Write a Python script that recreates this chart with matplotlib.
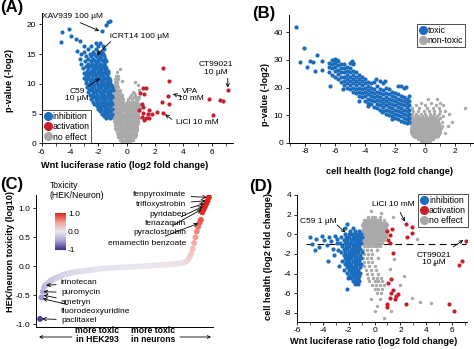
import numpy as np
import matplotlib
matplotlib.use("Agg")
import matplotlib.pyplot as plt
from matplotlib.colors import LinearSegmentedColormap
from matplotlib.lines import Line2D
from matplotlib.patches import FancyArrowPatch

plt.rcParams['font.family'] = ['Liberation Sans', 'DejaVu Sans']
plt.rcParams['axes.unicode_minus'] = False

BLUE = '#1b6cbc'
RED = '#c81e2b'
GREY = '#a9a9a9'

# ---------------- (A) Wnt reporter screen ----------------
# rows of (p-value, [log2 ratios])
wnt_inh_rows = [
    (4.2, [-1.45, -1.2]),
    (4.6, [-1.6, -1.35, -1.1]),
    (5.0, [-1.75, -1.5, -1.3, -1.05]),
    (5.4, [-1.9, -1.6, -1.4, -1.15]),
    (5.8, [-2.05, -1.8, -1.55, -1.3, -1.05]),
    (6.2, [-2.1, -1.9, -1.65, -1.45, -1.2]),
    (6.6, [-2.3, -2.0, -1.75, -1.5, -1.3, -1.05]),
    (7.0, [-2.35, -2.1, -1.85, -1.6, -1.35, -1.1]),
    (7.4, [-2.5, -2.2, -1.95, -1.7, -1.45, -1.2]),
    (7.8, [-2.45, -2.25, -2.0, -1.75, -1.5, -1.25, -1.05]),
    (8.2, [-2.6, -2.35, -2.1, -1.85, -1.6, -1.35, -1.1]),
    (8.6, [-2.7, -2.4, -2.15, -1.9, -1.65, -1.4, -1.15]),
    (9.0, [-2.65, -2.45, -2.2, -1.95, -1.7, -1.45, -1.2, -1.0]),
    (9.4, [-2.8, -2.5, -2.3, -2.05, -1.8, -1.55, -1.3, -1.05]),
    (9.8, [-2.75, -2.55, -2.3, -2.05, -1.8, -1.6, -1.35, -1.1]),
    (10.2, [-2.9, -2.6, -2.35, -2.1, -1.85, -1.6, -1.4, -1.15]),
    (10.6, [-2.85, -2.6, -2.4, -2.15, -1.9, -1.65, -1.4, -1.2]),
    (11.0, [-3.0, -2.7, -2.45, -2.2, -1.95, -1.7, -1.45, -1.25]),
    (11.4, [-2.9, -2.65, -2.4, -2.15, -1.9, -1.65, -1.4]),
    (11.8, [-3.05, -2.75, -2.5, -2.25, -2.0, -1.75, -1.5, -1.3]),
    (12.2, [-2.8, -2.55, -2.3, -2.05, -1.8, -1.55, -1.35]),
    (12.6, [-3.1, -2.7, -2.4, -2.15, -1.9, -1.65, -1.45]),
    (13.0, [-2.9, -2.6, -2.3, -2.0, -1.75, -1.5]),
    (13.4, [-3.2, -2.75, -2.45, -2.15, -1.9, -1.6]),
    (13.8, [-2.95, -2.55, -2.25, -2.0, -1.7, -1.45]),
    (14.2, [-3.3, -2.7, -2.35, -2.05, -1.8, -1.55]),
    (14.6, [-2.9, -2.5, -2.2, -1.9, -1.6]),
    (15.0, [-3.2, -2.6, -2.3, -1.95, -1.7]),
    (15.4, [-3.0, -2.4, -2.05, -1.75]),
    (15.8, [-2.7, -2.2, -1.6]),
    (16.3, [-2.5, -2.0, -1.7]),
    (16.8, [-2.2, -1.9]),
]
wnt_inh_extra = [(-4.6, 18.7), (-4.1, 19.2), (-3.95, 18.1), (-4.65, 17.0),
                 (-3.6, 17.6), (-3.3, 17.2), (-1.3, 20.4), (-1.15, 20.6),
                 (-1.75, 18.9), (-1.45, 19.8), (-3.0, 16.3), (-3.5, 15.5)]
wnt_act = [(2.54, 12.66), (2.99, 10.48), (1.13, 9.24), (1.36, 9.24), (0.94, 8.4),
           (1.25, 8.24), (2.94, 8.01), (2.49, 6.89), (3.01, 6.61), (1.15, 6.05),
           (0.87, 5.6), (2.12, 5.32), (2.54, 5.04), (1.18, 5.04), (1.48, 4.87),
           (1.76, 4.87), (1.11, 4.37), (1.36, 4.31), (1.25, 3.92), (1.58, 4.2),
           (5.81, 7.45), (6.59, 7.28), (6.78, 7.17), (6.12, 4.71), (7.13, 8.96),
           (1.05, 6.6), (1.6, 5.6)]
wnt_none_rows = [
    (0.2, [-0.3, -0.1, 0.05, 0.2]),
    (0.6, [-0.5, -0.3, -0.15, 0.0, 0.15, 0.3, 0.45]),
    (1.0, [-0.6, -0.45, -0.3, -0.15, 0.0, 0.12, 0.25, 0.4, 0.55]),
    (1.4, [-0.65, -0.5, -0.35, -0.2, -0.05, 0.1, 0.25, 0.4, 0.55, 0.65]),
    (1.8, [-0.7, -0.55, -0.4, -0.25, -0.1, 0.05, 0.2, 0.35, 0.5, 0.62]),
    (2.2, [-0.75, -0.6, -0.45, -0.3, -0.15, 0.0, 0.1, 0.25, 0.4, 0.55, 0.7]),
    (2.6, [-0.8, -0.65, -0.5, -0.35, -0.2, -0.05, 0.08, 0.2, 0.35, 0.5, 0.62, 0.75]),
    (3.0, [-0.85, -0.7, -0.55, -0.4, -0.25, -0.1, 0.05, 0.18, 0.3, 0.45, 0.6, 0.72]),
    (3.4, [-0.85, -0.72, -0.58, -0.45, -0.3, -0.15, 0.0, 0.15, 0.35, 0.5, 0.65, 0.78]),
    (3.8, [-0.9, -0.75, -0.6, -0.45, -0.3, -0.15, 0.0, 0.15, 0.28, 0.4, 0.55, 0.68, 0.8]),
    (4.2, [-0.95, -0.8, -0.65, -0.5, -0.35, -0.2, -0.05, 0.1, 0.25, 0.45, 0.6, 0.72, 0.85]),
    (4.6, [-0.95, -0.82, -0.68, -0.55, -0.4, -0.25, -0.1, 0.05, 0.2, 0.35, 0.5, 0.65, 0.78]),
    (5.0, [-1.0, -0.85, -0.7, -0.58, -0.45, -0.3, -0.15, 0.0, 0.15, 0.3, 0.42, 0.55, 0.7, 0.82]),
    (5.4, [-0.98, -0.85, -0.72, -0.6, -0.45, -0.3, -0.15, 0.0, 0.15, 0.3, 0.45, 0.6, 0.75, 0.88]),
    (5.8, [-1.0, -0.88, -0.75, -0.62, -0.5, -0.35, -0.2, -0.05, 0.1, 0.25, 0.4, 0.5, 0.62, 0.78]),
    (6.2, [-0.9, -0.78, -0.65, -0.5, -0.35, -0.2, -0.05, 0.1, 0.25, 0.4, 0.55, 0.68, 0.85]),
    (6.6, [-0.95, -0.8, -0.68, -0.55, -0.4, -0.25, -0.1, 0.05, 0.2, 0.35, 0.55, 0.72, 0.88]),
    (7.0, [-0.92, -0.82, -0.7, -0.55, -0.4, -0.25, 0.0, 0.25, 0.45, 0.6, 0.75]),
    (7.4, [-0.95, -0.85, -0.72, -0.6, -0.45, -0.25, 0.1, 0.4, 0.65, 0.8]),
    (7.8, [-0.9, -0.78, -0.65, -0.5, -0.3, 0.2, 0.5, 0.7, 0.85]),
    (8.2, [-0.95, -0.82, -0.7, -0.55, -0.35, 0.3, 0.6]),
    (8.6, [-0.9, -0.8, -0.7, -0.6, -0.45, 0.45]),
    (9.0, [-0.95, -0.85, -0.7, -0.5]),
    (9.4, [-0.88, -0.75, -0.6]),
    (9.8, [-0.9, -0.7]),
    (10.3, [-0.85, -0.7]),
    (10.8, [-0.8, -0.65]),
    (11.3, [-0.75, -0.6]),
    (12.0, [-0.7]),
]
wnt_none_extra = [(0.5, 8.5), (0.9, 9.0), (-0.5, 12.5), (0.6, 10.3), (0.8, 9.8),
                  (-0.3, 10.5), (0.95, 6.0)]

# ---------------- (B) cell health screen ----------------
# columns of (log2 fold change, [p-values])
toxic_cols = [
    (-6.4, [25.5, 27.5, 29.0]),
    (-6.2, [24.5, 27.0, 28.5, 30.0]),
    (-6.0, [24.0, 26.0, 27.5, 29.0, 30.0]),
    (-5.8, [23.0, 25.0, 26.5, 28.0, 29.5]),
    (-5.6, [22.0, 24.0, 25.5, 27.0, 28.5]),
    (-5.4, [21.0, 22.5, 24.0, 25.5, 27.0, 28.5]),
    (-5.2, [20.0, 21.5, 23.0, 24.5, 26.0, 27.5]),
    (-5.0, [19.5, 21.0, 22.5, 24.0, 25.5, 27.0, 29.0]),
    (-4.8, [18.5, 20.0, 21.5, 23.0, 24.5, 26.0, 28.5]),
    (-4.6, [18.0, 19.5, 21.0, 22.5, 24.0, 25.5]),
    (-4.4, [17.0, 18.5, 20.0, 21.5, 23.0, 24.5]),
    (-4.2, [16.5, 18.0, 19.5, 21.0, 22.5, 24.0]),
    (-4.0, [15.0, 17.0, 18.5, 20.0, 21.5, 23.0]),
    (-3.8, [14.5, 16.0, 17.5, 19.0, 20.5, 22.0]),
    (-3.6, [14.0, 15.5, 17.0, 18.5, 20.0, 21.5]),
    (-3.4, [13.0, 15.0, 16.5, 18.0, 19.5, 22.0]),
    (-3.2, [12.5, 14.0, 15.5, 17.0, 18.5, 20.5]),
    (-3.0, [12.0, 13.5, 15.0, 16.5, 18.0, 19.5, 22.5]),
    (-2.8, [11.5, 13.0, 14.5, 16.0, 17.5, 19.0, 21.5]),
    (-2.6, [10.5, 12.0, 13.5, 15.0, 16.5, 18.0, 20.0]),
    (-2.4, [10.0, 11.5, 13.0, 14.5, 16.0, 17.5, 19.5]),
    (-2.2, [9.5, 11.0, 12.5, 14.0, 15.5, 17.0, 18.5]),
    (-2.0, [9.0, 10.5, 12.0, 13.5, 15.0, 16.5, 18.0]),
    (-1.8, [8.5, 10.0, 11.5, 13.0, 14.5, 16.0, 17.5, 20.5]),
    (-1.6, [8.0, 9.5, 11.0, 12.5, 14.0, 15.5, 17.0]),
    (-1.4, [7.5, 9.0, 10.5, 12.0, 13.5, 15.0, 16.5, 20.0]),
    (-1.2, [7.0, 8.5, 10.0, 11.5, 13.0, 14.5, 16.0]),
    (-1.05, [7.5, 9.0, 10.5, 12.0, 13.5, 15.0, 17.0]),
]
toxic_extra = [(-8.6, 41.8), (-8.1, 34.2), (-8.35, 29.3), (-7.9, 27.3), (-7.7, 29.8),
               (-7.45, 29.2), (-7.2, 31.8), (-7.35, 26.1), (-6.85, 26.3), (-6.9, 29.5),
               (-6.35, 20.4), (-6.0, 30.2), (-5.9, 30.1), (-4.9, 29.5), (-4.8, 29.0),
               (-5.5, 19.3), (-4.4, 15.0), (-3.8, 13.3), (-2.9, 11.0), (-3.3, 23.0),
               (-2.7, 22.5), (-1.6, 20.5), (-1.3, 20.2), (-2.2, 8.5)]
nontoxic_rows = [
    (0.5, [-0.3, -0.15, 0.0, 0.15, 0.3]),
    (1.2, [-0.5, -0.35, -0.2, -0.05, 0.1, 0.25, 0.4, 0.55]),
    (1.9, [-0.65, -0.5, -0.35, -0.2, -0.05, 0.1, 0.25, 0.4, 0.55, 0.7]),
    (2.6, [-0.8, -0.65, -0.5, -0.35, -0.2, -0.05, 0.1, 0.25, 0.4, 0.55, 0.7, 0.85]),
    (3.3, [-0.9, -0.75, -0.6, -0.45, -0.3, -0.15, 0.0, 0.15, 0.3, 0.45, 0.6, 0.75, 0.9]),
    (4.0, [-0.95, -0.8, -0.65, -0.5, -0.35, -0.2, -0.05, 0.1, 0.25, 0.4, 0.55, 0.7, 0.85, 1.0]),
    (4.7, [-0.95, -0.8, -0.65, -0.5, -0.35, -0.2, -0.05, 0.1, 0.25, 0.4, 0.55, 0.7, 0.85, 1.0]),
    (5.4, [-0.95, -0.8, -0.65, -0.5, -0.35, -0.2, -0.05, 0.1, 0.25, 0.4, 0.55, 0.7, 0.85, 1.05]),
    (6.1, [-0.9, -0.75, -0.6, -0.45, -0.3, -0.15, 0.0, 0.15, 0.3, 0.45, 0.6, 0.75, 0.9, 1.1]),
    (6.8, [-0.95, -0.8, -0.65, -0.5, -0.35, -0.2, -0.05, 0.1, 0.25, 0.4, 0.55, 0.7, 0.9]),
    (7.5, [-0.9, -0.75, -0.6, -0.45, -0.3, -0.15, 0.0, 0.15, 0.3, 0.45, 0.65, 0.85, 1.15]),
    (8.2, [-0.95, -0.75, -0.55, -0.35, -0.15, 0.05, 0.25, 0.45, 0.65, 0.85]),
    (8.9, [-0.9, -0.7, -0.5, -0.3, -0.1, 0.1, 0.3, 0.5, 0.7, 1.0]),
    (9.6, [-0.95, -0.7, -0.45, -0.2, 0.05, 0.3, 0.55, 0.8, 1.2]),
    (10.5, [-0.9, -0.6, -0.3, 0.0, 0.3, 0.6, 0.9]),
    (11.5, [-0.8, -0.45, -0.1, 0.25, 0.6, 1.0, 1.3]),
    (12.5, [-0.9, -0.4, 0.1, 0.5, 0.9]),
    (13.5, [-0.6, 0.0, 0.7, 1.2]),
    (14.5, [-0.3, 0.4, 1.0]),
    (16.0, [0.2, 0.8]),
]
nontoxic_extra = [(2.65, 12.7), (1.6, 10.5), (1.8, 7.5), (1.5, 6.0), (1.3, 3.5)]

# ---------------- (C) HEK293 / neuron toxicity ranking ----------------
tox_rank = [0, 1, 2, 3, 4, 5, 6, 7, 8, 9, 10, 11, 12, 13, 14, 15, 16, 17, 18,
            20, 22, 24, 26, 28, 30, 32, 34, 36, 38, 40, 42, 44, 46, 48, 50, 52,
            54, 56, 58, 60, 62, 64, 66, 68, 70, 72, 74, 76, 78, 80, 82, 84, 86,
            88, 90, 92, 94, 96, 98, 100, 102, 104, 106, 107, 108, 109, 110, 111,
            112, 113, 114, 115, 116, 117, 118, 119, 120, 121, 122, 123, 124, 125]
tox_ratio = [-0.91, -0.54, -0.44, -0.36, -0.33, -0.31, -0.29, -0.27, -0.25, -0.235,
             -0.22, -0.21, -0.2, -0.19, -0.18, -0.17, -0.16, -0.15, -0.14,
             -0.13, -0.12, -0.11, -0.1, -0.095, -0.09, -0.08, -0.075, -0.07, -0.065,
             -0.06, -0.05, -0.045, -0.04, -0.037, -0.034, -0.031, -0.028, -0.025,
             -0.022, -0.02, -0.017, -0.015, -0.012, -0.01, -0.007, -0.005, -0.002,
             0.0, 0.003, 0.006, 0.009, 0.012, 0.015, 0.018, 0.021, 0.025, 0.028,
             0.032, 0.036, 0.04, 0.045, 0.05, 0.06, 0.07, 0.08, 0.1, 0.13, 0.17,
             0.22, 0.3, 0.4, 0.5, 0.6, 0.68, 0.75, 0.8, 0.93, 0.98, 1.03, 1.08,
             1.13, 1.19]
neuron_labels = ['fenpyroximate', 'trifloxystrobin', 'pyridaben', 'fenazaquin',
                 'pyraclostrobin', 'emamectin benzoate']
neuron_label_y = [1.23, 1.07, 0.89, 0.73, 0.58, 0.40]
neuron_targets = [(123.5, 1.19), (122.5, 1.13), (121.5, 1.08), (120.5, 1.03),
                  (119.5, 0.98), (117.0, 0.74)]
hek_labels = ['irinotecan', 'puromycin', 'ametryn', 'fluorodeoxyuridine', 'paclitaxel']
hek_label_y = [-0.29, -0.46, -0.62, -0.78, -0.93]
hek_targets = [(4.5, -0.33), (2.5, -0.44), (2.5, -0.5), (2.0, -0.56), (1.5, -0.91)]

# ---------------- (D) Wnt ratio vs cell health ----------------
# rows of (cell health, [log2 ratios])
d_inh_rows = [
    (1.0, [-2.1]),
    (0.6, [-2.25, -1.7]),
    (0.3, [-1.9, -1.5, -1.2]),
    (0.0, [-2.3, -2.0, -1.75, -1.5, -1.25, -1.05]),
    (-0.3, [-2.6, -2.2, -1.95, -1.7, -1.45, -1.2, -1.0]),
    (-0.6, [-2.4, -2.1, -1.85, -1.6, -1.35, -1.1]),
    (-0.9, [-2.7, -2.3, -2.05, -1.8, -1.55, -1.3, -1.05]),
    (-1.2, [-2.5, -2.2, -1.95, -1.7, -1.45, -1.2]),
    (-1.5, [-2.35, -2.1, -1.85, -1.6, -1.35, -1.1]),
    (-1.8, [-2.6, -2.25, -2.0, -1.75, -1.5, -1.25, -1.0]),
    (-2.1, [-2.4, -2.15, -1.9, -1.65, -1.4, -1.15]),
    (-2.4, [-2.3, -2.05, -1.8, -1.55, -1.3, -1.05]),
    (-2.7, [-2.5, -2.2, -1.95, -1.7, -1.45, -1.2]),
    (-3.0, [-2.3, -2.05, -1.8, -1.55, -1.3, -1.05]),
    (-3.3, [-2.15, -1.9, -1.65, -1.4, -1.15]),
    (-3.6, [-2.35, -2.0, -1.75, -1.5, -1.25]),
    (-3.9, [-2.1, -1.85, -1.6, -1.35, -1.1]),
    (-4.2, [-1.95, -1.7, -1.45, -1.2]),
    (-4.5, [-2.05, -1.8, -1.55, -1.3]),
    (-4.8, [-1.65, -1.4, -1.2]),
    (-5.1, [-1.5, -1.3]),
    (-5.6, [-2.1]),
]
d_inh_extra = [(-5.0, -0.3), (-4.85, -1.0), (-4.5, -0.5), (-4.3, -1.3), (-4.1, -0.15),
               (-3.95, -0.6), (-3.7, -1.1), (-3.5, -0.3), (-3.35, -0.7), (-3.2, -1.5),
               (-3.05, -0.2), (-2.9, -0.9), (-3.6, -2.7), (-3.15, -2.1), (-2.8, -1.6),
               (-2.75, -3.2), (-2.9, -0.5), (-4.6, -1.6)]
d_act = [(0.95, 0.36), (1.33, 0.5), (1.2, -0.08), (1.07, -0.6), (1.2, -0.87),
         (1.46, -1.9), (2.44, 1.0), (2.88, 0.7), (2.93, 0.15), (2.5, -0.25),
         (7.09, -0.7), (6.76, -2.7), (6.55, -3.15), (1.26, -4.6), (1.07, -5.0),
         (1.46, -5.7), (1.67, -6.3), (1.2, -6.5), (1.6, -6.6), (0.95, -7.05),
         (1.0, -7.4), (2.44, -7.05), (5.72, -7.05), (6.11, -7.8), (1.3, -6.0),
         (1.85, -6.1)]
d_none_rows = [
    (2.4, [-0.3]),
    (1.8, [-0.5, -0.2, 0.0, 0.4]),
    (1.5, [-0.8, -0.65, -0.5, -0.35, -0.2, -0.05, 0.1, 0.25, 0.45, 0.7]),
    (1.2, [-0.9, -0.75, -0.6, -0.45, -0.3, -0.15, 0.0, 0.15, 0.3, 0.45, 0.6, 0.75, 0.9]),
    (0.9, [-0.95, -0.8, -0.65, -0.5, -0.35, -0.2, -0.05, 0.1, 0.25, 0.4, 0.55, 0.7, 0.85, 1.0]),
    (0.6, [-0.9, -0.75, -0.6, -0.45, -0.3, -0.15, 0.0, 0.15, 0.3, 0.45, 0.6, 0.75, 0.9]),
    (0.3, [-0.95, -0.8, -0.65, -0.5, -0.35, -0.2, -0.05, 0.1, 0.25, 0.4, 0.55, 0.7, 0.85, 1.0]),
    (0.0, [-0.9, -0.75, -0.6, -0.45, -0.3, -0.15, 0.0, 0.15, 0.3, 0.45, 0.6, 0.75, 0.9]),
    (-0.3, [-0.95, -0.8, -0.65, -0.5, -0.35, -0.2, -0.05, 0.1, 0.25, 0.4, 0.55, 0.7, 0.85]),
    (-0.6, [-0.9, -0.75, -0.6, -0.45, -0.3, -0.15, 0.0, 0.15, 0.3, 0.45, 0.6, 0.75]),
    (-0.9, [-0.85, -0.7, -0.55, -0.4, -0.25, -0.1, 0.05, 0.2, 0.4, 0.6]),
    (-1.2, [-0.8, -0.6, -0.4, -0.2, 0.0, 0.2, 0.4]),
    (-1.6, [-0.9, -0.6, -0.3, 0.2]),
    (-2.0, [-0.8, -0.5, -0.2]),
    (-2.4, [-0.9, -0.6, -0.3, 0.3]),
    (-2.8, [-0.85, -0.5, -0.2]),
    (-3.2, [-0.8, -0.4, 0.0]),
    (-3.6, [-0.7, -0.3, 0.1]),
    (-4.0, [-0.6, -0.2, 0.3]),
    (-4.4, [-0.5, -0.1, 0.2, 0.5]),
    (-4.8, [-0.4, 0.0, 0.3, 0.6]),
    (-5.2, [-0.2, 0.1, 0.4, 0.7]),
    (-5.6, [0.0, 0.3, 0.6]),
    (-6.0, [0.2, 0.5]),
    (-6.6, [0.4, -0.3]),
    (-7.3, [0.2]),
    (-7.8, [0.0, 1.3]),
    (-8.5, [0.7]),
]
d_none_extra = [(1.5, -2.5), (1.2, -3.5), (2.3, -4.2), (2.0, -5.2), (2.9, -6.5),
                (3.5, -6.9), (4.4, -7.0), (4.6, -3.0), (1.4, 1.8), (0.5, 2.2),
                (3.3, -0.5)]
health_cutoff = -1.0


def rows_xy(rows, extra=(), swap=False):
    a = [v for k, row in rows for v in row]
    b = [k for k, row in rows for v in row]
    if swap:
        a, b = b, a
    xs = a + [p[0] for p in extra]
    ys = b + [p[1] for p in extra]
    return np.array(xs), np.array(ys)


W, H = 474, 349
fig = plt.figure(figsize=(W / 100, H / 100), dpi=100)


def box(l, t, r, b):
    return [l / W, 1 - b / H, (r - l) / W, (b - t) / H]


def style(ax):
    for s in ('top', 'right'):
        ax.spines[s].set_visible(False)
    for s in ('left', 'bottom'):
        ax.spines[s].set_linewidth(0.7)
    ax.tick_params(direction='out', length=2.5, width=0.6, labelsize=6, pad=1.5)
    ax.tick_params(which='minor', direction='out', length=1.8, width=0.5)


def place_labels(ax, xlab, xpos, ylab, ypos):
    inv = ax.transAxes.inverted()
    if xlab:
        ax.set_xlabel(xlab, fontsize=6.6, weight='bold', va='center')
        ax.xaxis.set_label_coords(*inv.transform((xpos[0], H - xpos[1])))
    ax.set_ylabel(ylab, fontsize=6.6, weight='bold', va='center')
    ax.yaxis.set_label_coords(*inv.transform((ypos[0], H - ypos[1])))


def add_legend(ax, labels, colors, **kw):
    handles = [Line2D([], [], ls='', marker='o', ms=5.5, color=c) for c in colors]
    leg = ax.legend(handles, labels, frameon=True, fancybox=False, edgecolor='k',
                    fontsize=6.3, handletextpad=0.05, handlelength=1.0,
                    borderpad=0.2, labelspacing=0.15, borderaxespad=0, **kw)
    leg.get_frame().set_linewidth(0.6)
    return leg


arrow = dict(arrowstyle='->', lw=0.6, color='k', shrinkA=0, shrinkB=0,
             mutation_scale=6)

# ---- (A)
ax_a = fig.add_axes(box(41.7, 13, 233, 143.3))
style(ax_a)
gx, gy = rows_xy(wnt_none_rows, wnt_none_extra)
bx, by = rows_xy(wnt_inh_rows, wnt_inh_extra)
rx, ry = np.array(wnt_act).T
ax_a.scatter(gx, gy, s=6, color=GREY, lw=0, zorder=2)
ax_a.scatter(bx, by, s=9, color=BLUE, lw=0, zorder=3)
ax_a.scatter(rx, ry, s=9, color=RED, lw=0, zorder=3)
ax_a.set_xlim(-6, 7.5)
ax_a.set_ylim(0, 21.9)
ax_a.set_xticks(range(-6, 7, 2))
ax_a.set_xticks(range(-6, 8), minor=True)
ax_a.set_yticks(range(0, 21, 5))
place_labels(ax_a, 'Wnt luciferase ratio (log2 fold change)', (124.7, 165),
             'p-value (-log2)', (10, 81))
for txt, xytext in [('XAV939 100 µM', (-3.8, 21.3)), ('iCRT14 100 µM', (0.94, 17.9)),
                    ('C59\n10 µM', (-3.5, 8.1)), ('CT99021\n10 µM', (6.3, 12.55)),
                    ('VPA\n10 mM', (4.5, 8.1)), ('LiCl 10 mM', (5.0, 3.47))]:
    ax_a.text(*xytext, txt, fontsize=6, ha='center', va='center',
              linespacing=1.1, zorder=5)
for tail, head in [((-3.29, 20.28), (-1.93, 18.88)), ((-1.13, 17.09), (-2.12, 14.85)),
                   ((-2.7, 9.64), (-1.88, 10.92)), ((7.13, 10.92), (7.13, 9.36)),
                   ((3.88, 7.84), (3.25, 8.29)), ((3.18, 4.03), (2.7, 4.87))]:
    ax_a.annotate('', xy=head, xytext=tail, arrowprops=arrow, zorder=5)
add_legend(ax_a, ['inhibition', 'activation', 'no effect'], [BLUE, RED, GREY],
           loc='lower left', bbox_to_anchor=(0, 0))

# ---- (B)
ax_b = fig.add_axes(box(288.7, 15, 473, 142.7))
style(ax_b)
gx, gy = rows_xy(nontoxic_rows, nontoxic_extra)
bx, by = rows_xy(toxic_cols, toxic_extra, swap=True)
ax_b.scatter(gx, gy, s=6, color=GREY, lw=0, zorder=2)
ax_b.scatter(bx, by, s=9, color=BLUE, lw=0, zorder=3)
ax_b.set_xlim(-9.1, 3.2)
ax_b.set_ylim(0, 46.3)
ax_b.set_xticks(range(-8, 3, 2))
ax_b.set_xticks(range(-9, 4), minor=True)
ax_b.set_yticks(range(0, 41, 10))
place_labels(ax_b, 'cell health (log2 fold change)', (389.5, 171.7),
             'p-value (-log2)', (265.3, 95))
pos = ax_b.transAxes.inverted().transform((465, H - 24))
add_legend(ax_b, ['toxic', 'non-toxic'], [BLUE, GREY], loc='upper right',
           bbox_to_anchor=tuple(pos))

# ---- (C)
ax_c = fig.add_axes(box(36, 195, 213, 327))
style(ax_c)
tox_cmap = LinearSegmentedColormap.from_list(
    'tox', ['#3a2a8a', '#aaa4d3', '#ebe7f0', '#f3a195', '#e1221a'])
sc = ax_c.scatter(tox_rank, tox_ratio, c=tox_ratio, cmap=tox_cmap, vmin=-1, vmax=1,
                  s=18, lw=0, zorder=3)
ax_c.set_xlim(-3, 128)
ax_c.set_ylim(-1.05, 1.23)
ax_c.set_xticks([])
ax_c.set_yticks([1.0, 0.5, 0.0, -0.5, -1.0])
ax_c.set_yticklabels(['1.0', '0.5', '0.0', '-0.5', '-1.0'])
place_labels(ax_c, None, None, 'HEK/neuron toxicity (log10)', (11, 251.7))
for lab, ty, tgt in zip(neuron_labels, neuron_label_y, neuron_targets):
    ax_c.annotate(lab, xy=tgt, xytext=(108.3, ty), fontsize=6, ha='right',
                  va='center', arrowprops=dict(arrow, shrinkA=1.5), zorder=5)
for lab, ty, tgt in zip(hek_labels, hek_label_y, hek_targets):
    ax_c.annotate(lab, xy=tgt, xytext=(15.5, ty), fontsize=6, ha='left',
                  va='center', arrowprops=dict(arrow, shrinkA=1.5), zorder=5)
cax = fig.add_axes(box(55, 213, 66, 250))
cb = fig.colorbar(sc, cax=cax, ticks=[1, 0, -1])
cb.outline.set_visible(False)
cb.ax.tick_params(length=0, labelsize=6, pad=1.5)
cb.ax.set_yticklabels(['1.0', '0.0', '-1'])
fig.text(50 / W, 1 - 185 / H, 'Toxicity', fontsize=6.2, va='center', ha='left')
fig.text(49 / W, 1 - 196 / H, '(HEK/Neuron)', fontsize=6.2, va='center', ha='left')
fig.text(97 / W, 1 - 335 / H, 'more toxic\nin HEK293', fontsize=6.2, weight='bold',
         ha='center', va='center', linespacing=1.0)
fig.text(153 / W, 1 - 335 / H, 'more toxic\nin neurons', fontsize=6.2, weight='bold',
         ha='center', va='center', linespacing=1.0)
fig_arrow = dict(arrowstyle='->', lw=0.6, color='k', shrinkA=0, shrinkB=0,
                 mutation_scale=5)
for x0, x1 in [(72, 39), (180, 211)]:
    fig.add_artist(FancyArrowPatch((x0 / W, 1 - 337 / H), (x1 / W, 1 - 337 / H),
                                   transform=fig.transFigure, **fig_arrow))

# ---- (D)
ax_d = fig.add_axes(box(297, 195, 467, 321.7))
style(ax_d)
gx, gy = rows_xy(d_none_rows, d_none_extra)
bx, by = rows_xy(d_inh_rows, d_inh_extra)
rx, ry = np.array(d_act).T
ax_d.plot([-5.3, 7.1], [health_cutoff, health_cutoff], color='k', lw=0.8,
          ls=(0, (6, 4)), zorder=1)
ax_d.scatter(gx, gy, s=6, color=GREY, lw=0, zorder=2)
ax_d.scatter(bx, by, s=9, color=BLUE, lw=0, zorder=3)
ax_d.scatter(rx, ry, s=9, color=RED, lw=0, zorder=3)
ax_d.set_xlim(-6, 7.15)
ax_d.set_ylim(-8.9, 4)
ax_d.set_xticks(range(-6, 7, 2))
ax_d.set_xticks(range(-6, 8), minor=True)
ax_d.set_yticks(range(-8, 5, 2))
place_labels(ax_d, 'Wnt luciferase ratio (log2 fold change)', (373.7, 341.7),
             'cell health (log2 fold change)', (268.7, 256))
for txt, xytext in [('C59 1 µM', (-4.33, 1.28)), ('LiCl 10 mM', (1.49, 3.05)),
                    ('CT99021\n10 µM', (4.6, -2.5))]:
    ax_d.text(*xytext, txt, fontsize=6, ha='center', va='center',
              linespacing=1.1, zorder=5)
for tail, head in [((-2.9, 0.94), (-2.26, 0.19)), ((1.98, 2.23), (2.36, 1.28)),
                   ((6.09, -1.28), (6.86, -0.59))]:
    ax_d.annotate('', xy=head, xytext=tail, arrowprops=arrow, zorder=5)
pos = ax_d.transAxes.inverted().transform((467.7, H - 194))
add_legend(ax_d, ['inhibition', 'activation', 'no effect'], [BLUE, RED, GREY],
           loc='upper right', bbox_to_anchor=tuple(pos))

for lab, x, y in [('(A)', 0, 0), ('(B)', 252, 6), ('(C)', 0, 177), ('(D)', 249, 179)]:
    fig.text(x / W, 1 - y / H, lab, fontsize=12, weight='bold', va='top', ha='left')

fig.savefig('out.png', dpi=100)
